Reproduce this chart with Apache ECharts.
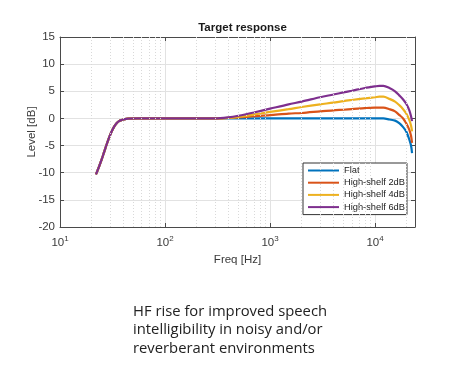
<!DOCTYPE html>
<html>
<head>
<meta charset="utf-8">
<script src="https://cdn.jsdelivr.net/npm/echarts@6/dist/echarts.min.js"></script>
<style>
  html, body { margin: 0; padding: 0; background: #fff; }
  #chart { width: 474px; height: 376px; }
</style>
</head>
<body>
<div id="chart"></div>
<script>
// frequencies (Hz) sampled along the curves
const freqs = [22, 23.4, 24.9, 26.3, 27.8, 29.4, 31, 32.8, 34.6, 36.5, 38.6, 41.5, 44.5, 55, 100, 200, 300,
  400, 500, 700, 1000, 1500, 2000, 3000, 4000, 5000, 6000, 8000, 10000, 11000, 12000,
  13700, 15500, 17100, 18500, 19800, 21200, 22000, 22500];

// high-pass part, shared by all curves (22 .. 300 Hz)
const lowEnd = [-10.3, -9.0, -7.6, -6.2, -4.8, -3.5, -2.4, -1.5, -0.9, -0.5, -0.3, -0.12, -0.05, 0, 0, 0, 0];

// 400 Hz .. 22.5 kHz
const flatHi   = [0, 0, 0, 0, 0, 0, 0, 0, 0, 0, 0, 0, 0, 0, -0.2, -0.4, -0.9, -1.6, -2.4, -3.9, -5.0, -6.4];
const shelf2Hi = [0.1, 0.2, 0.4, 0.6, 0.9, 1.0, 1.3, 1.5, 1.6, 1.7, 1.9, 2.0, 2.0, 2.0, 1.7, 1.3, 0.6, 0.0, -0.9, -2.1, -3.2, -4.5];
const shelf4Hi = [0.1, 0.3, 0.7, 1.2, 1.7, 2.1, 2.6, 2.9, 3.2, 3.4, 3.7, 3.9, 4.0, 4.0, 3.6, 3.1, 2.4, 1.7, 0.9, -0.3, -1.3, -2.4];
const shelf6Hi = [0.2, 0.5, 1.1, 1.8, 2.6, 3.1, 3.9, 4.4, 4.8, 5.1, 5.6, 5.9, 6.0, 6.0, 5.6, 5.0, 4.2, 3.5, 2.7, 1.5, 0.4, -0.5];

const seriesNames = ['Flat', 'High-shelf 2dB', 'High-shelf 4dB', 'High-shelf 6dB'];
const colors = ['#0072BD', '#D95319', '#EDB120', '#7E2F8E'];

// minor grid positions 2..9 per decade
const minorFreqs = [];
[10, 100, 1000, 10000].forEach(d => {
  for (let k = 2; k <= 9; k++) if (d * k < 24000) minorFreqs.push(d * k);
});

const curves = [flatHi, shelf2Hi, shelf4Hi, shelf6Hi].map(hi => lowEnd.concat(hi));

let myChart = echarts.init(document.getElementById('chart'));

const font = 'Liberation Sans, Arial, sans-serif';
const textCol = '#3a3a3a';
const axisCol = '#4a4a4a';

let option = {
  animation: false,
  textStyle: { fontFamily: font },
  title: [
    {
      text: 'Target response',
      left: 237.5, top: 17, textAlign: 'center',
      textStyle: { fontFamily: font, fontSize: 11.5, fontWeight: 'bold', color: '#1a1a1a' }
    },
    {
      text: 'HF rise for improved speech\nintelligibility in noisy and/or\nreverberant environments',
      left: 133, top: 302, padding: 0,
      textStyle: { fontFamily: 'Open Sans', fontSize: 14.8, fontWeight: 'normal', color: '#222', lineHeight: 18.7 }
    }
  ],
  legend: {
    orient: 'vertical',
    left: 303, top: 163,
    data: seriesNames,
    itemWidth: 31, itemHeight: 10,
    itemGap: 3.2,
    itemStyle: { opacity: 0 },
    lineStyle: { width: 2 },
    padding: [3, 2, 3, 4],
    backgroundColor: '#fff',
    borderColor: '#333',
    borderWidth: 1,
    textStyle: { fontFamily: font, fontSize: 9.3, color: '#222' }
  },
  grid: { left: 60, right: 59, top: 37, bottom: 149, containLabel: false },
  xAxis: [
    {
      type: 'log', logBase: 10, min: 10, max: 24000,
      name: 'Freq [Hz]', nameLocation: 'middle', nameGap: 24,
      nameTextStyle: { fontFamily: font, fontSize: 11.5, color: textCol },
      axisLine: { show: true, onZero: false, lineStyle: { color: axisCol, width: 1 } },
      axisTick: { show: true, inside: true, length: 4, lineStyle: { color: axisCol } },
      axisLabel: {
        margin: 8,
        showMaxLabel: false,
        formatter: function (v) {
          const e = Math.round(Math.log10(v));
          if (Math.abs(Math.pow(10, e) - v) > 1e-6) return '';
          return '{b|10}{s|' + e + '}';
        },
        rich: {
          b: { fontFamily: font, fontSize: 11.5, color: textCol, verticalAlign: 'bottom', lineHeight: 14 },
          s: { fontFamily: font, fontSize: 8, color: textCol, verticalAlign: 'top', lineHeight: 8 }
        }
      },
      splitLine: { show: true, lineStyle: { color: '#e2e2e2', width: 1 } }
    },
    {
      type: 'log', logBase: 10, min: 10, max: 24000, position: 'top',
      axisLine: { show: true, onZero: false, lineStyle: { color: axisCol, width: 1 } },
      axisTick: { show: true, inside: true, length: 4, lineStyle: { color: axisCol } },
      axisLabel: { show: false },
      splitLine: { show: false }
    }
  ],
  yAxis: [
    {
      type: 'value', min: -20, max: 15, interval: 5,
      name: 'Level [dB]', nameLocation: 'middle', nameGap: 22,
      nameMoveOverlap: false,
      nameTextStyle: { fontFamily: font, fontSize: 11.5, color: textCol },
      axisLine: { show: true, onZero: false, lineStyle: { color: axisCol, width: 1 } },
      axisTick: { show: true, inside: true, length: 4, lineStyle: { color: axisCol } },
      axisLabel: { fontFamily: font, fontSize: 11.5, color: textCol, margin: 5 },
      splitLine: { show: true, lineStyle: { color: '#e2e2e2', width: 1 } }
    },
    {
      type: 'value', min: -20, max: 15, interval: 5, position: 'right',
      axisLine: { show: true, onZero: false, lineStyle: { color: axisCol, width: 1 } },
      axisTick: { show: true, inside: true, length: 4, lineStyle: { color: axisCol } },
      axisLabel: { show: false },
      splitLine: { show: false }
    }
  ],
  series: [
    {
      name: 'minor-grid', type: 'line', data: [], silent: true, z: 1,
      markLine: {
        silent: true, symbol: 'none', animation: false,
        label: { show: false },
        lineStyle: { color: '#d9d9d9', type: [1, 2], width: 1 },
        data: minorFreqs.map(f => ({ xAxis: f }))
      }
    }
  ].concat(curves.map((vals, i) => ({
    name: seriesNames[i],
    type: 'line',
    data: freqs.map((f, j) => [f, vals[j]]),
    symbol: 'none',
    showSymbol: false,
    smooth: 0.3,
    z: 3,
    lineStyle: { color: colors[i], width: 2.2 },
    itemStyle: { color: colors[i] }
  })))
};

myChart.setOption(option);
</script>
</body>
</html>
